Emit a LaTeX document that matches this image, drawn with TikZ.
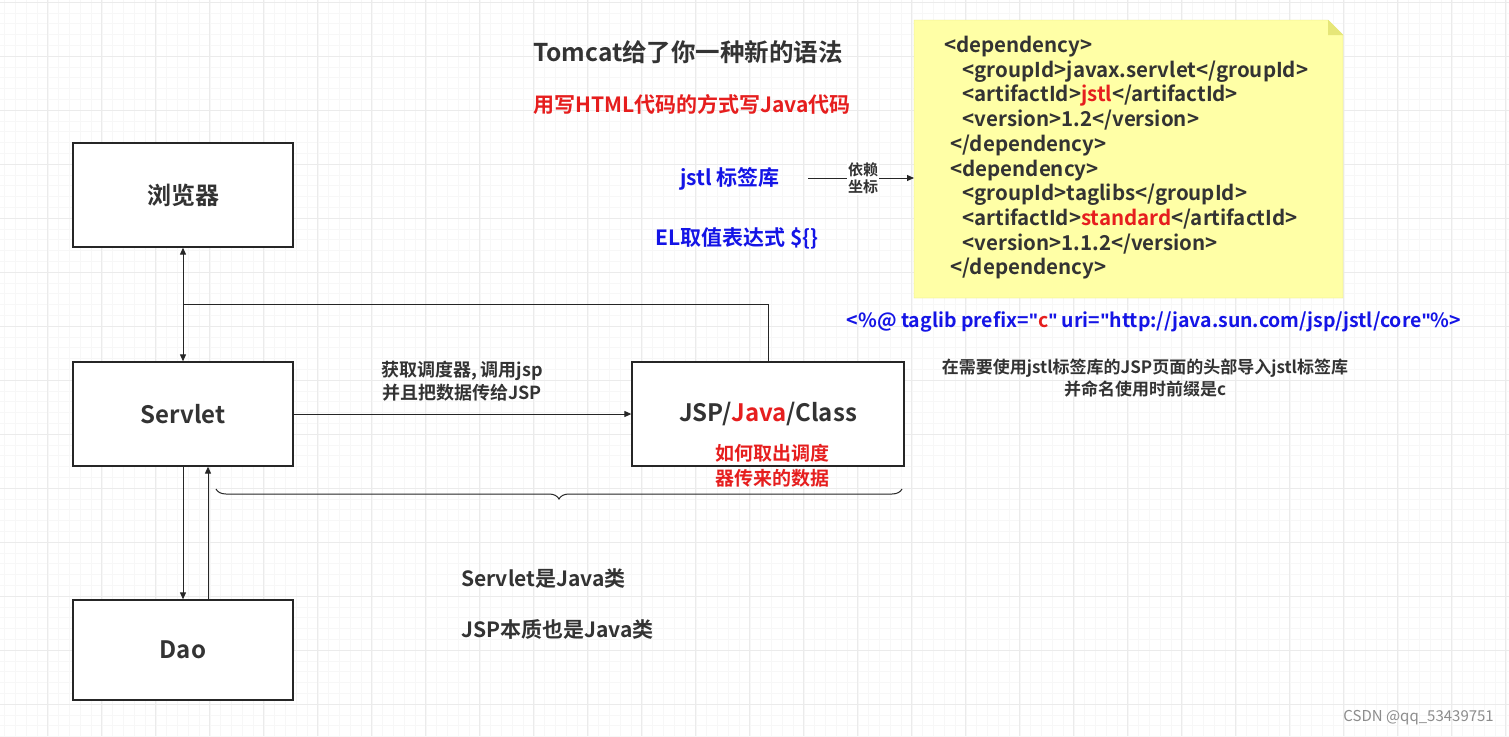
\documentclass[tikz,border=0pt]{standalone}
\usepackage{fontspec}
\setmainfont{Noto Sans CJK SC}[BoldFont={* Bold}]
\newfontfamily\qfont{Liberation Sans}
\usetikzlibrary{arrows.meta,decorations.pathreplacing}
\definecolor{gridc}{RGB}{235,235,235}
\definecolor{gridm}{RGB}{247,247,247}
\definecolor{txt}{RGB}{51,51,51}
\definecolor{red1}{RGB}{230,30,30}
\definecolor{blue1}{RGB}{20,20,230}
\definecolor{note}{RGB}{255,255,166}
\definecolor{notee}{RGB}{230,230,120}
\newcommand{\qq}{{\qfont\bfseries\symbol{34}}}
\begin{document}
\begin{tikzpicture}[x=1pt,y=-1pt,font=\bfseries,
 box/.style={draw=black!85,line width=1.3pt,fill=white,text=txt,font=\fontsize{24}{28}\bfseries\selectfont},
 con/.style={line width=1pt,draw=black!85},
 arr/.style={con,-{Triangle[length=7pt,width=6pt]}},
 t/.style={text=txt,inner sep=0}]
\useasboundingbox (0,0) rectangle (1509,736);
\fill[white] (0,0) rectangle (1509,736);
\foreach \i in {0,...,140} {\draw[gridm,line width=0.6pt] ({-6.2+10.8*\i},0) -- ++(0,736);}
\foreach \i in {0,...,70} {\draw[gridm,line width=0.6pt] (0,{2+10.8*\i}) -- ++(1509,0);}
\foreach \i in {0,...,28} {\draw[gridc,line width=0.8pt] ({-7+54*\i},0) -- ++(0,736);}
\foreach \i in {0,...,14} {\draw[gridc,line width=0.8pt] (0,{2+54*\i}) -- ++(1509,0);}
% note
\draw[notee,fill=note] (914,20) -- (1328,20) -- (1343,35) -- (1343,298) -- (914,298) -- cycle;
\fill[notee] (1328,20) -- (1343,35) -- (1328,35) -- cycle;
\node[t,anchor=north west,align=left,font=\fontsize{20.5}{24.7}\bfseries\selectfont] (code) at (944,36) {%
<dependency>\\
\hspace{0.9em}<groupId>javax.servlet</groupId>\\
\hspace{0.9em}<artifactId>\textcolor{red1}{jstl}</artifactId>\\
\hspace{0.9em}<version>1.2</version>\\
\hspace{0.3em}</dependency>\\
\hspace{0.3em}<dependency>\\
\hspace{0.9em}<groupId>taglibs</groupId>\\
\hspace{0.9em}<artifactId>\textcolor{red1}{standard}</artifactId>\\
\hspace{0.9em}<version>1.1.2</version>\\
\hspace{0.3em}</dependency>};
% boxes
\node[box,minimum width=220,minimum height=104] (b) at (183,195) {浏览器};
\node[box,minimum width=220,minimum height=104] (s) at (183,414) {Servlet};
\node[box,minimum width=220,minimum height=100] (d) at (183,650) {Dao};
\node[box,minimum width=272,minimum height=104] (j) at (768,414) {JSP/\textcolor{red1}{Java}/Class};
% connectors
\draw[con,{Triangle[length=7pt,width=6pt]}-{Triangle[length=7pt,width=6pt]}] (b.south) -- (s.north);
\coordinate (c1) at (183,304);
\draw[con] (c1) -| (j.north);
\draw[arr] (s.east) -- (j.west);
\draw[arr] (s.south) -- (d.north);
\draw[arr] (d.north)++(25,0) coordinate (du) -- (du |- s.south);
\coordinate (br1) at (216,489); \coordinate (br2) at (902,489);
\draw[con,decorate,decoration={brace,mirror,amplitude=10pt}] (br1) -- (br2);
% texts
\node[t,font=\fontsize{24.5}{28}\bfseries\selectfont] (tt) at (688,52) {Tomcat给了你一种新的语法};
\node[t,text=red1,font=\fontsize{21}{24}\bfseries\selectfont] (t2) at (692,104) {用写HTML代码的方式写Java代码};
\node[t,text=blue1,font=\fontsize{21}{24}\bfseries\selectfont] (jstl) at (730,179) {jstl 标签库};
\node[t,text=blue1,font=\fontsize{21}{24}\bfseries\selectfont] (el) at (737,238) {EL取值表达式 \$\{\}};
\node[t,font=\fontsize{15}{17}\bfseries\selectfont,align=center,fill=white,inner sep=1pt] (dep) at (863,178) {依赖\\坐标};
\coordinate (a1) at (808,178); \coordinate (a2) at (914,178);
\draw[con] (a1) -- (dep.west);
\draw[arr] (dep.east) -- (a2);
\node[t,text=blue1,font=\fontsize{19.5}{24}\bfseries\selectfont] (tag) at (1154,322) {<\%@ taglib prefix=\qq\textcolor{red1}{c}\qq\ uri=\qq http://java.sun.com/jsp/jstl/core\qq\%>};
\node[t,align=center,font=\fontsize{17}{22}\bfseries\selectfont] (tagd) at (1145,378) {在需要使用jstl标签库的JSP页面的头部导入jstl标签库\\并命名使用时前缀是c};
\node[t,align=center,font=\fontsize{18}{23}\bfseries\selectfont] (lab) at (462,381) {获取调度器, 调用jsp\\并且把数据传给JSP};
\node[t,text=red1,align=center,font=\fontsize{19}{25}\bfseries\selectfont] (how) at (772,466) {如何取出调度\\器传来的数据};
\node[t,font=\fontsize{21}{24}\bfseries\selectfont,anchor=west] (n1) at (461,579) {Servlet是Java类};
\node[t,font=\fontsize{21}{24}\bfseries\selectfont,anchor=west] (n2) at (461,629) {JSP本质也是Java类};
\node[text=black!45,font=\fontsize{15}{17}\selectfont,anchor=east,inner sep=0] (wm) at (1494,718) {CSDN @qq\_53439751};
\end{tikzpicture}
\end{document}
